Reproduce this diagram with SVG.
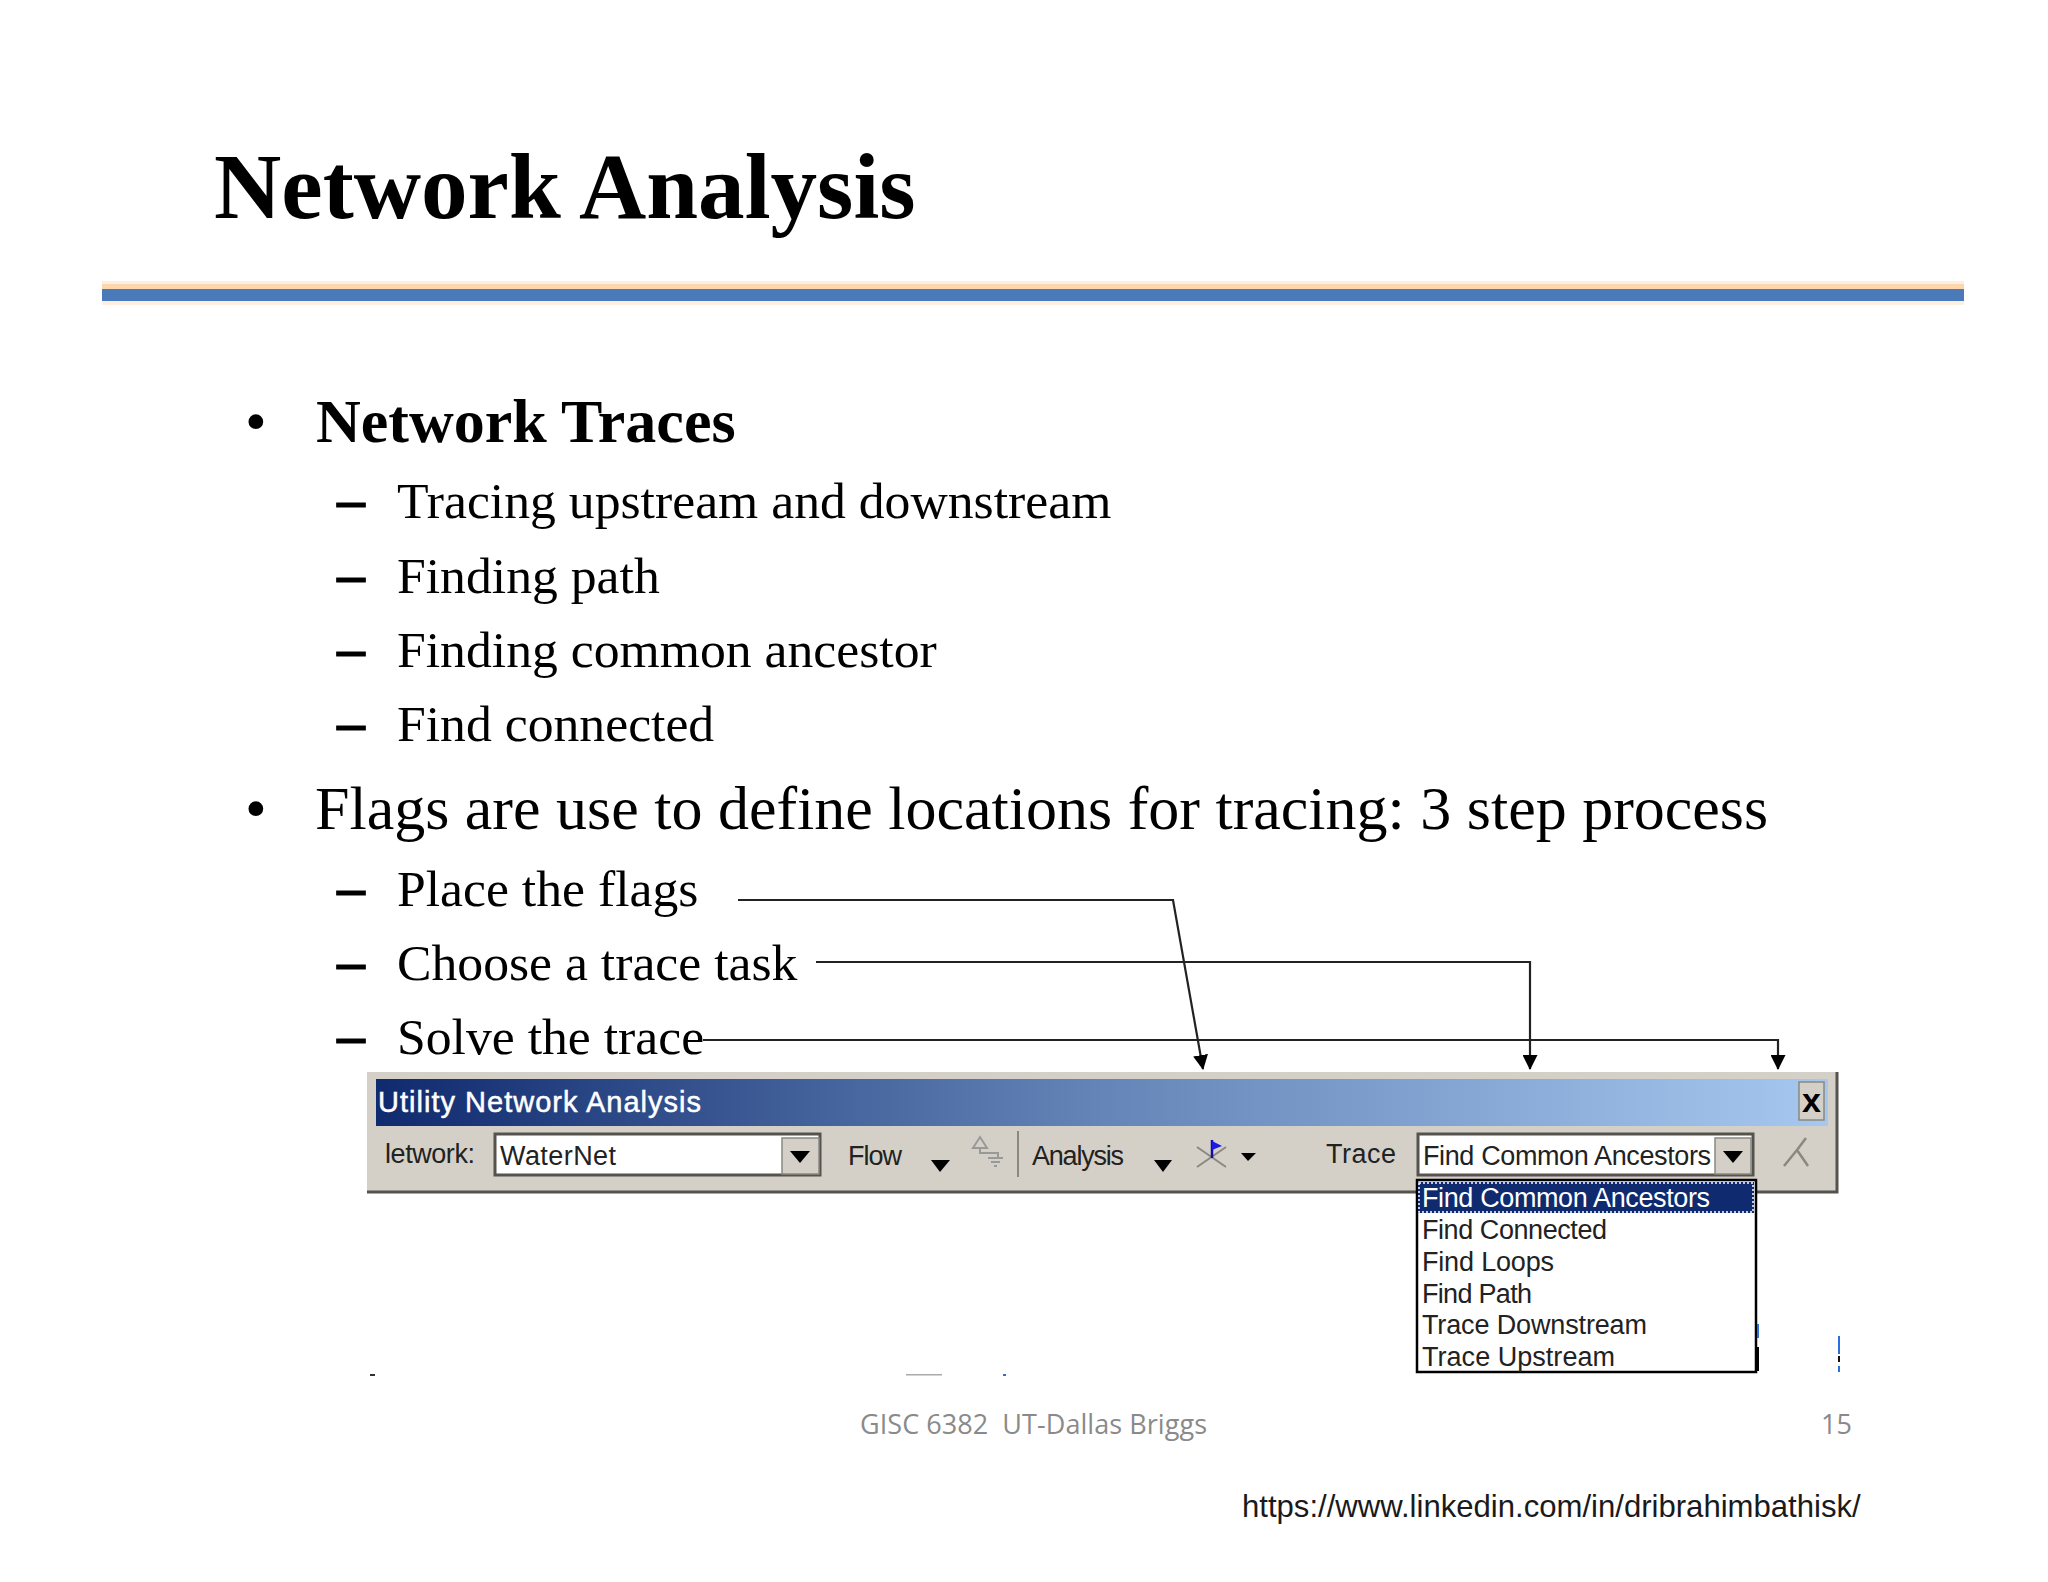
<svg xmlns="http://www.w3.org/2000/svg" width="2048" height="1582" viewBox="0 0 2048 1582">
<style>
text{white-space:pre}
.s{font-family:"Liberation Serif",serif;fill:#000}
.b{font-weight:bold}
.l1{font-size:62px}
.l2{font-size:51.7px}
.dash{font-size:56px;font-weight:bold;stroke:#000;stroke-width:0.8}
.u{font-family:"Liberation Sans",sans-serif;font-size:31.1px;fill:#1a1a1a}
.d{font-family:"Liberation Sans",sans-serif;font-size:27px;fill:#222}
.f{font-family:"Open Sans",sans-serif;font-size:27px;fill:#8a8a8a}
.c{fill:none;stroke:#222;stroke-width:2.2}
.bev{fill:#d4d0c8;stroke:#8a8880;stroke-width:1.5}
.tri{fill:#000}
</style>
<defs>
<linearGradient id="tb" x1="0" x2="1" y1="0" y2="0"><stop offset="0" stop-color="#0f2a6e"/><stop offset="0.5" stop-color="#6585b8"/><stop offset="1" stop-color="#a6c8ef"/></linearGradient>
<marker id="ah" viewBox="0 0 15 15" refX="14" refY="7.5" markerWidth="15" markerHeight="15" markerUnits="userSpaceOnUse" orient="auto"><path d="M0 0L15 7.5L0 15Z" fill="#000"/></marker>
</defs>
<rect width="2048" height="1582" fill="#fff"/>
<text id="title" class="s b" x="214" y="218" font-size="93.2">Network Analysis</text>
<g id="rule">
<rect x="102" y="281" width="1862" height="3" fill="#fdeedd"/>
<rect x="102" y="284" width="1862" height="5" fill="#fdd7ab"/>
<rect x="102" y="289" width="1862" height="12" fill="#4a7ab9"/>
<rect x="102" y="301" width="1862" height="4" fill="#fdf0e2"/>
</g>
<g id="bullets">
<text class="s l1" x="245" y="442">•</text>
<text class="s l1 b" x="316" y="442">Network Traces</text>
<text class="s dash" x="337" y="518">–</text>
<text class="s l2" x="397" y="518">Tracing upstream and downstream</text>
<text class="s dash" x="337" y="593">–</text>
<text class="s l2" x="397" y="593">Finding path</text>
<text class="s dash" x="337" y="667">–</text>
<text class="s l2" x="397" y="667">Finding common ancestor</text>
<text class="s dash" x="337" y="741">–</text>
<text class="s l2" x="397" y="741">Find connected</text>
<text class="s l1" x="245" y="829">•</text>
<text class="s l1" x="315" y="829">Flags are use to define locations for tracing: 3 step process</text>
<text class="s dash" x="337" y="906">–</text>
<text class="s l2" x="397" y="906">Place the flags</text>
<text class="s dash" x="337" y="980">–</text>
<text class="s l2" x="397" y="980">Choose a trace task</text>
<text class="s dash" x="337" y="1054">–</text>
<text class="s l2" x="397" y="1054">Solve the trace</text>
</g>
<g id="window">
<rect x="367" y="1072" width="1469" height="120" fill="#d4d0c8"/>
<path d="M367 1192H1837V1072" fill="none" stroke="#55534e" stroke-width="3"/>
<rect x="376" y="1079" width="1452" height="47" fill="url(#tb)"/>
<text x="378" y="1112" font-family="Liberation Sans,sans-serif" font-size="29" fill="#fff" stroke="#fff" stroke-width="0.5" textLength="323">Utility Network Analysis</text>
<rect class="bev" x="1799" y="1082" width="25" height="38"/>
<text x="1811.5" y="1112" font-family="Liberation Sans,sans-serif" font-size="34" font-weight="bold" text-anchor="middle" fill="#000">x</text>
<text class="d" x="385" y="1163" textLength="90">letwork:</text>
<rect x="495" y="1134" width="325" height="41" fill="#fff" stroke="#55534e" stroke-width="3"/>
<rect class="bev" x="782" y="1138" width="37" height="36"/>
<path class="tri" d="M790 1151H810L800 1163Z"/>
<text class="d" x="500" y="1165" textLength="116">WaterNet</text>
<text class="d" x="848" y="1165" textLength="54">Flow</text>
<path class="tri" d="M931 1160H950L940 1172Z"/>
<path d="M973 1148H987L980 1137ZM980 1148V1153H998V1158M988 1158H1003M991 1162H1000M994 1166H997" fill="none" stroke="#999" stroke-width="2"/>
<rect x="1017" y="1131" width="2" height="46" fill="#8a8880"/>
<text class="d" x="1032" y="1165" textLength="92">Analysis</text>
<path class="tri" d="M1154 1160H1172L1163 1172Z"/>
<path d="M1197 1167L1226 1147M1197 1147L1226 1167" stroke="#8a8880" stroke-width="2" fill="none"/>
<path d="M1212 1158V1140" stroke="#1010a0" stroke-width="2.5"/>
<path d="M1212 1141L1222 1146L1212 1150Z" fill="#1a1ae6"/>
<path class="tri" d="M1241 1153H1256L1248 1161Z"/>
<text class="d" x="1326" y="1163" textLength="70">Trace</text>
<rect x="1418" y="1134" width="335" height="41" fill="#fff" stroke="#55534e" stroke-width="3"/>
<rect class="bev" x="1715" y="1138" width="36" height="36"/>
<path class="tri" d="M1723 1151H1743L1733 1163Z"/>
<text class="d" x="1423" y="1165" textLength="288">Find Common Ancestors</text>
<path d="M1797 1150L1784 1166M1797 1150L1808 1166M1797 1150L1806 1138" fill="none" stroke="#8a8880" stroke-width="2.5"/>
</g>
<g id="dropdown">
<rect x="1417" y="1180" width="339" height="192" fill="#fff" stroke="#000" stroke-width="2.5"/>
<rect x="1418" y="1182" width="336" height="31" fill="#0f2a6e"/>
<rect x="1419" y="1183" width="334" height="29" fill="none" stroke="#fff" stroke-width="1.5" stroke-dasharray="2 2"/>
<text class="d" x="1422" y="1207" style="fill:#fff" textLength="288">Find Common Ancestors</text>
<text class="d" x="1422" y="1239" textLength="185">Find Connected</text>
<text class="d" x="1422" y="1271" textLength="132">Find Loops</text>
<text class="d" x="1422" y="1303" textLength="110">Find Path</text>
<text class="d" x="1422" y="1334" textLength="225">Trace Downstream</text>
<text class="d" x="1422" y="1366" textLength="193">Trace Upstream</text>
</g>
<g id="marks">
<rect x="1757" y="1324" width="2" height="14" fill="#2a6fdc"/>
<rect x="1756" y="1347" width="3" height="24" fill="#000"/>
<rect x="1838" y="1336" width="2" height="18" fill="#2a6fdc"/>
<rect x="1838" y="1356" width="2" height="6" fill="#111"/>
<rect x="1838" y="1366" width="2" height="6" fill="#2a6fdc"/>
<rect x="370" y="1374" width="5" height="2" fill="#333"/>
<rect x="906" y="1374" width="36" height="1.5" fill="#aaa"/>
<rect x="1003" y="1374" width="3" height="2" fill="#2a6fdc"/>
</g>
<g id="connectors">
<path class="c" d="M738 900H1173L1203 1069" marker-end="url(#ah)"/>
<path class="c" d="M816 962H1530V1069" marker-end="url(#ah)"/>
<path class="c" d="M703 1040H1778V1069" marker-end="url(#ah)"/>
</g>
<g id="footer">
<text class="f" x="860" y="1434" textLength="347">GISC 6382  UT-Dallas Briggs</text>
<text class="f" x="1821" y="1434">15</text>
<text class="u" x="1242" y="1517">https://www.linkedin.com/in/dribrahimbathisk/</text>
</g>
</svg>
